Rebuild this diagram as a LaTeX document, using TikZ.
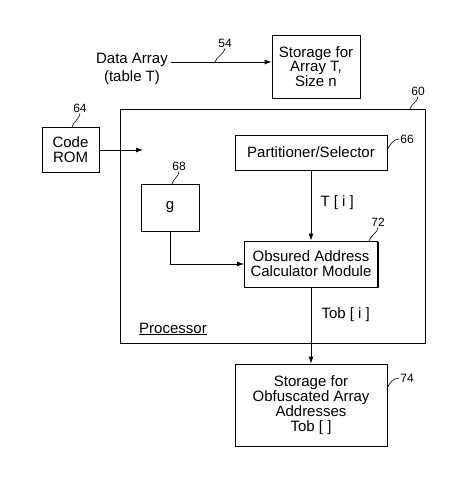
\documentclass[tikz,border=0pt]{standalone}
\usepackage{fontspec}
\setmainfont{Liberation Sans}
\usetikzlibrary{arrows.meta,shadows}

\tikzset{
  box/.style={draw, line width=0.9pt, fill=white, align=center, inner sep=0pt,
    drop shadow={shadow xshift=1.4pt, shadow yshift=-1.4pt, fill=black, opacity=1}},
  refnum/.style={font=\fontsize{12}{12}\selectfont, inner sep=1pt},
  lead/.style={line width=0.6pt},
  flow/.style={line width=0.9pt, -{Latex[length=7pt,width=5pt]}},
}

\begin{document}
\begin{tikzpicture}[x=1pt, y=-1pt, font=\fontsize{15}{14.8}\selectfont]
\useasboundingbox (0,0) rectangle (474,484);

% Input array
\node[align=center, font=\fontsize{15}{18}\selectfont] (data) at (132,69) {Data Array\\(table T)};
\node[box, minimum width=88pt, minimum height=63pt] (store) at (316,66.5) {Storage for\\Array T,\\Size n};
\coordinate (datatail) at (171,62);
\draw[flow] (datatail) -- (datatail -| store.west);

% Processor frame
\node[box, minimum width=305pt, minimum height=234pt] (proc) at (272.5,226) {};
\node (proclabel) at (173,329) {\underline{Processor}};

% Code ROM
\node[box, minimum width=57pt, minimum height=45pt] (rom) at (70.5,149.5) {Code\\ROM};
\coordinate (romtip) at (143,150);
\draw[flow] (rom.east |- romtip) -- (romtip);

% Inner blocks
\node[box, minimum width=152pt, minimum height=35pt] (part) at (311,152.5) {Partitioner/Selector};
\node[box, minimum width=58pt, minimum height=47pt] (g) at (170,207.5) {g};
\node[box, minimum width=133pt, minimum height=46pt] (calc) at (311,264) {Obsured Address\\Calculator Module};
\node[box, minimum width=152pt, minimum height=82pt] (obstore) at (311,405) {Storage for\\Obfuscated Array\\Addresses\\Tob [ ]};

% Connectors
\draw[flow] (part.south) -- (calc.north);
\draw[flow] (g.south) |- (calc.west);
\draw[flow] (calc.south) -- (obstore.north);
\node[anchor=west] (ti) at (317,203) {T [ i ]};
\node[anchor=west] (tobi) at (318,315) {Tob [ i ]};

% Reference numerals
\foreach \num/\lx/\ly/\ax/\ay in {54/225/43/215/62, 60/418/91/410/109, 64/80/108/72/127,
    68/179/166/172/184, 72/378/222/369/241} {
  \node[refnum] (n\num) at (\lx,\ly) {\num};
  \coordinate (a\num) at (\ax,\ay);
  \draw[lead] (n\num.south) .. controls +(0,5) and +(1,-5) .. (a\num);
}
\node[refnum] (n66) at (407,139) {66};
\coordinate (a66) at (387,150);
\draw[lead] (n66.west) .. controls +(-6,0) and +(3,-5) .. (a66);
\node[refnum] (n74) at (407,378) {74};
\coordinate (a74) at (387,388);
\draw[lead] (n74.west) .. controls +(-6,0) and +(3,-5) .. (a74);

\end{tikzpicture}
\end{document}
